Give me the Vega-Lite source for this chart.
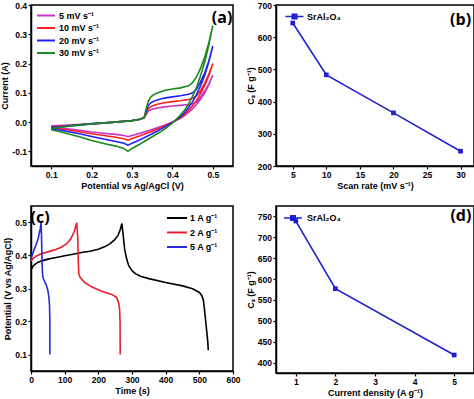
{
  "$schema": "https://vega.github.io/schema/vega-lite/v6.json",
  "padding": {"left": 0, "top": 0, "right": 0, "bottom": 0},
  "background": "white",
  "columns": 2,
  "spacing": {"row": 14, "column": 4},
  "resolve": {"scale": {"color": "independent", "x": "independent", "y": "independent"}, "legend": {"color": "independent"}},
  "config": {
    "view": {"stroke": "black", "strokeWidth": 1.5},
    "axis": {"grid": false, "domainColor": "black", "domainWidth": 1.5, "tickColor": "black", "tickWidth": 1.2, "tickSize": 3, "labelOverlap": false, "tickCount": 20,
      "labelFont": "Liberation Sans", "labelFontWeight": "bold", "labelFontSize": 8.5, "labelColor": "black", "labelPadding": 1.5, "labelFlush": false,
      "titleFont": "Liberation Sans", "titleFontWeight": "bold", "titleFontSize": 9, "titleColor": "black", "titlePadding": 2},
    "legend": {"labelFont": "Liberation Sans", "labelFontWeight": "bold", "labelFontSize": 9, "labelColor": "black", "padding": 0, "title": null}
  },
  "concat": [
    {
      "width": 202, "height": 161,
      "layer": [
        {
          "data": {"values": [
            {"s":"5 mV s⁻¹","i":0,"v":0.1,"c":-0.013},{"s":"5 mV s⁻¹","i":1,"v":0.15,"c":-0.01},{"s":"5 mV s⁻¹","i":2,"v":0.2,"c":-0.005},{"s":"5 mV s⁻¹","i":3,"v":0.25,"c":-0.001},{"s":"5 mV s⁻¹","i":4,"v":0.3,"c":0.005},{"s":"5 mV s⁻¹","i":5,"v":0.32,"c":0.01},{"s":"5 mV s⁻¹","i":6,"v":0.33,"c":0.014},{"s":"5 mV s⁻¹","i":7,"v":0.335,"c":0.026},{"s":"5 mV s⁻¹","i":8,"v":0.34,"c":0.037},{"s":"5 mV s⁻¹","i":9,"v":0.345,"c":0.041},{"s":"5 mV s⁻¹","i":10,"v":0.35,"c":0.044},{"s":"5 mV s⁻¹","i":11,"v":0.36,"c":0.047},{"s":"5 mV s⁻¹","i":12,"v":0.38,"c":0.052},{"s":"5 mV s⁻¹","i":13,"v":0.4,"c":0.055},{"s":"5 mV s⁻¹","i":14,"v":0.42,"c":0.057},{"s":"5 mV s⁻¹","i":15,"v":0.44,"c":0.06},{"s":"5 mV s⁻¹","i":16,"v":0.45,"c":0.063},{"s":"5 mV s⁻¹","i":17,"v":0.46,"c":0.07},{"s":"5 mV s⁻¹","i":18,"v":0.47,"c":0.086},{"s":"5 mV s⁻¹","i":19,"v":0.48,"c":0.106},{"s":"5 mV s⁻¹","i":20,"v":0.49,"c":0.13},{"s":"5 mV s⁻¹","i":21,"v":0.5,"c":0.16},
            {"s":"5 mV s⁻¹","i":22,"v":0.49,"c":0.127},{"s":"5 mV s⁻¹","i":23,"v":0.48,"c":0.1},{"s":"5 mV s⁻¹","i":24,"v":0.47,"c":0.079},{"s":"5 mV s⁻¹","i":25,"v":0.46,"c":0.061},{"s":"5 mV s⁻¹","i":26,"v":0.45,"c":0.046},{"s":"5 mV s⁻¹","i":27,"v":0.44,"c":0.033},{"s":"5 mV s⁻¹","i":28,"v":0.43,"c":0.022},{"s":"5 mV s⁻¹","i":29,"v":0.42,"c":0.013},{"s":"5 mV s⁻¹","i":30,"v":0.4,"c":0},{"s":"5 mV s⁻¹","i":31,"v":0.38,"c":-0.011},{"s":"5 mV s⁻¹","i":32,"v":0.35,"c":-0.025},{"s":"5 mV s⁻¹","i":33,"v":0.32,"c":-0.038},{"s":"5 mV s⁻¹","i":34,"v":0.3,"c":-0.046},{"s":"5 mV s⁻¹","i":35,"v":0.29,"c":-0.05},{"s":"5 mV s⁻¹","i":36,"v":0.28,"c":-0.046},{"s":"5 mV s⁻¹","i":37,"v":0.26,"c":-0.042},{"s":"5 mV s⁻¹","i":38,"v":0.23,"c":-0.038},{"s":"5 mV s⁻¹","i":39,"v":0.2,"c":-0.034},{"s":"5 mV s⁻¹","i":40,"v":0.17,"c":-0.028},{"s":"5 mV s⁻¹","i":41,"v":0.15,"c":-0.025},{"s":"5 mV s⁻¹","i":42,"v":0.12,"c":-0.02},{"s":"5 mV s⁻¹","i":43,"v":0.1,"c":-0.017},
            {"s":"10 mV s⁻¹","i":0,"v":0.1,"c":-0.016},{"s":"10 mV s⁻¹","i":1,"v":0.15,"c":-0.011},{"s":"10 mV s⁻¹","i":2,"v":0.2,"c":-0.006},{"s":"10 mV s⁻¹","i":3,"v":0.25,"c":-0.001},{"s":"10 mV s⁻¹","i":4,"v":0.3,"c":0.005},{"s":"10 mV s⁻¹","i":5,"v":0.32,"c":0.01},{"s":"10 mV s⁻¹","i":6,"v":0.33,"c":0.015},{"s":"10 mV s⁻¹","i":7,"v":0.335,"c":0.03},{"s":"10 mV s⁻¹","i":8,"v":0.34,"c":0.045},{"s":"10 mV s⁻¹","i":9,"v":0.345,"c":0.051},{"s":"10 mV s⁻¹","i":10,"v":0.35,"c":0.055},{"s":"10 mV s⁻¹","i":11,"v":0.36,"c":0.06},{"s":"10 mV s⁻¹","i":12,"v":0.38,"c":0.066},{"s":"10 mV s⁻¹","i":13,"v":0.4,"c":0.07},{"s":"10 mV s⁻¹","i":14,"v":0.42,"c":0.073},{"s":"10 mV s⁻¹","i":15,"v":0.44,"c":0.077},{"s":"10 mV s⁻¹","i":16,"v":0.45,"c":0.081},{"s":"10 mV s⁻¹","i":17,"v":0.46,"c":0.09},{"s":"10 mV s⁻¹","i":18,"v":0.47,"c":0.108},{"s":"10 mV s⁻¹","i":19,"v":0.48,"c":0.133},{"s":"10 mV s⁻¹","i":20,"v":0.49,"c":0.163},{"s":"10 mV s⁻¹","i":21,"v":0.5,"c":0.2},
            {"s":"10 mV s⁻¹","i":22,"v":0.49,"c":0.158},{"s":"10 mV s⁻¹","i":23,"v":0.48,"c":0.125},{"s":"10 mV s⁻¹","i":24,"v":0.47,"c":0.098},{"s":"10 mV s⁻¹","i":25,"v":0.46,"c":0.075},{"s":"10 mV s⁻¹","i":26,"v":0.45,"c":0.056},{"s":"10 mV s⁻¹","i":27,"v":0.44,"c":0.04},{"s":"10 mV s⁻¹","i":28,"v":0.43,"c":0.026},{"s":"10 mV s⁻¹","i":29,"v":0.42,"c":0.015},{"s":"10 mV s⁻¹","i":30,"v":0.4,"c":-0.001},{"s":"10 mV s⁻¹","i":31,"v":0.38,"c":-0.014},{"s":"10 mV s⁻¹","i":32,"v":0.35,"c":-0.031},{"s":"10 mV s⁻¹","i":33,"v":0.32,"c":-0.047},{"s":"10 mV s⁻¹","i":34,"v":0.3,"c":-0.056},{"s":"10 mV s⁻¹","i":35,"v":0.29,"c":-0.062},{"s":"10 mV s⁻¹","i":36,"v":0.28,"c":-0.057},{"s":"10 mV s⁻¹","i":37,"v":0.26,"c":-0.052},{"s":"10 mV s⁻¹","i":38,"v":0.23,"c":-0.046},{"s":"10 mV s⁻¹","i":39,"v":0.2,"c":-0.04},{"s":"10 mV s⁻¹","i":40,"v":0.17,"c":-0.033},{"s":"10 mV s⁻¹","i":41,"v":0.15,"c":-0.029},{"s":"10 mV s⁻¹","i":42,"v":0.12,"c":-0.023},{"s":"10 mV s⁻¹","i":43,"v":0.1,"c":-0.02},
            {"s":"20 mV s⁻¹","i":0,"v":0.1,"c":-0.019},{"s":"20 mV s⁻¹","i":1,"v":0.15,"c":-0.012},{"s":"20 mV s⁻¹","i":2,"v":0.2,"c":-0.006},{"s":"20 mV s⁻¹","i":3,"v":0.25,"c":-0.001},{"s":"20 mV s⁻¹","i":4,"v":0.3,"c":0.005},{"s":"20 mV s⁻¹","i":5,"v":0.32,"c":0.01},{"s":"20 mV s⁻¹","i":6,"v":0.33,"c":0.015},{"s":"20 mV s⁻¹","i":7,"v":0.335,"c":0.035},{"s":"20 mV s⁻¹","i":8,"v":0.34,"c":0.055},{"s":"20 mV s⁻¹","i":9,"v":0.345,"c":0.064},{"s":"20 mV s⁻¹","i":10,"v":0.35,"c":0.069},{"s":"20 mV s⁻¹","i":11,"v":0.36,"c":0.075},{"s":"20 mV s⁻¹","i":12,"v":0.38,"c":0.082},{"s":"20 mV s⁻¹","i":13,"v":0.4,"c":0.086},{"s":"20 mV s⁻¹","i":14,"v":0.42,"c":0.09},{"s":"20 mV s⁻¹","i":15,"v":0.44,"c":0.095},{"s":"20 mV s⁻¹","i":16,"v":0.45,"c":0.1},{"s":"20 mV s⁻¹","i":17,"v":0.46,"c":0.113},{"s":"20 mV s⁻¹","i":18,"v":0.47,"c":0.138},{"s":"20 mV s⁻¹","i":19,"v":0.48,"c":0.168},{"s":"20 mV s⁻¹","i":20,"v":0.49,"c":0.208},{"s":"20 mV s⁻¹","i":21,"v":0.5,"c":0.26},
            {"s":"20 mV s⁻¹","i":22,"v":0.49,"c":0.205},{"s":"20 mV s⁻¹","i":23,"v":0.48,"c":0.16},{"s":"20 mV s⁻¹","i":24,"v":0.47,"c":0.125},{"s":"20 mV s⁻¹","i":25,"v":0.46,"c":0.095},{"s":"20 mV s⁻¹","i":26,"v":0.45,"c":0.07},{"s":"20 mV s⁻¹","i":27,"v":0.44,"c":0.05},{"s":"20 mV s⁻¹","i":28,"v":0.43,"c":0.032},{"s":"20 mV s⁻¹","i":29,"v":0.42,"c":0.019},{"s":"20 mV s⁻¹","i":30,"v":0.4,"c":-0.002},{"s":"20 mV s⁻¹","i":31,"v":0.38,"c":-0.018},{"s":"20 mV s⁻¹","i":32,"v":0.35,"c":-0.04},{"s":"20 mV s⁻¹","i":33,"v":0.32,"c":-0.06},{"s":"20 mV s⁻¹","i":34,"v":0.3,"c":-0.072},{"s":"20 mV s⁻¹","i":35,"v":0.29,"c":-0.079},{"s":"20 mV s⁻¹","i":36,"v":0.28,"c":-0.072},{"s":"20 mV s⁻¹","i":37,"v":0.26,"c":-0.066},{"s":"20 mV s⁻¹","i":38,"v":0.23,"c":-0.058},{"s":"20 mV s⁻¹","i":39,"v":0.2,"c":-0.049},{"s":"20 mV s⁻¹","i":40,"v":0.17,"c":-0.04},{"s":"20 mV s⁻¹","i":41,"v":0.15,"c":-0.035},{"s":"20 mV s⁻¹","i":42,"v":0.12,"c":-0.027},{"s":"20 mV s⁻¹","i":43,"v":0.1,"c":-0.023},
            {"s":"30 mV s⁻¹","i":0,"v":0.1,"c":-0.022},{"s":"30 mV s⁻¹","i":1,"v":0.15,"c":-0.013},{"s":"30 mV s⁻¹","i":2,"v":0.2,"c":-0.006},{"s":"30 mV s⁻¹","i":3,"v":0.25,"c":-0.001},{"s":"30 mV s⁻¹","i":4,"v":0.3,"c":0.005},{"s":"30 mV s⁻¹","i":5,"v":0.32,"c":0.01},{"s":"30 mV s⁻¹","i":6,"v":0.33,"c":0.016},{"s":"30 mV s⁻¹","i":7,"v":0.335,"c":0.045},{"s":"30 mV s⁻¹","i":8,"v":0.34,"c":0.07},{"s":"30 mV s⁻¹","i":9,"v":0.345,"c":0.082},{"s":"30 mV s⁻¹","i":10,"v":0.35,"c":0.09},{"s":"30 mV s⁻¹","i":11,"v":0.36,"c":0.098},{"s":"30 mV s⁻¹","i":12,"v":0.38,"c":0.108},{"s":"30 mV s⁻¹","i":13,"v":0.4,"c":0.113},{"s":"30 mV s⁻¹","i":14,"v":0.42,"c":0.117},{"s":"30 mV s⁻¹","i":15,"v":0.44,"c":0.124},{"s":"30 mV s⁻¹","i":16,"v":0.45,"c":0.135},{"s":"30 mV s⁻¹","i":17,"v":0.46,"c":0.155},{"s":"30 mV s⁻¹","i":18,"v":0.47,"c":0.185},{"s":"30 mV s⁻¹","i":19,"v":0.48,"c":0.222},{"s":"30 mV s⁻¹","i":20,"v":0.49,"c":0.27},{"s":"30 mV s⁻¹","i":21,"v":0.5,"c":0.33},
            {"s":"30 mV s⁻¹","i":22,"v":0.49,"c":0.262},{"s":"30 mV s⁻¹","i":23,"v":0.48,"c":0.205},{"s":"30 mV s⁻¹","i":24,"v":0.47,"c":0.16},{"s":"30 mV s⁻¹","i":25,"v":0.46,"c":0.12},{"s":"30 mV s⁻¹","i":26,"v":0.45,"c":0.088},{"s":"30 mV s⁻¹","i":27,"v":0.44,"c":0.062},{"s":"30 mV s⁻¹","i":28,"v":0.43,"c":0.04},{"s":"30 mV s⁻¹","i":29,"v":0.42,"c":0.024},{"s":"30 mV s⁻¹","i":30,"v":0.4,"c":-0.004},{"s":"30 mV s⁻¹","i":31,"v":0.38,"c":-0.025},{"s":"30 mV s⁻¹","i":32,"v":0.35,"c":-0.05},{"s":"30 mV s⁻¹","i":33,"v":0.32,"c":-0.075},{"s":"30 mV s⁻¹","i":34,"v":0.3,"c":-0.09},{"s":"30 mV s⁻¹","i":35,"v":0.29,"c":-0.1},{"s":"30 mV s⁻¹","i":36,"v":0.28,"c":-0.09},{"s":"30 mV s⁻¹","i":37,"v":0.26,"c":-0.082},{"s":"30 mV s⁻¹","i":38,"v":0.23,"c":-0.073},{"s":"30 mV s⁻¹","i":39,"v":0.2,"c":-0.063},{"s":"30 mV s⁻¹","i":40,"v":0.17,"c":-0.05},{"s":"30 mV s⁻¹","i":41,"v":0.15,"c":-0.043},{"s":"30 mV s⁻¹","i":42,"v":0.12,"c":-0.032},{"s":"30 mV s⁻¹","i":43,"v":0.1,"c":-0.026}
          ]},
          "mark": {"type": "line", "strokeWidth": 1.6},
          "encoding": {
            "x": {"field": "v", "type": "quantitative", "scale": {"domain": [0.05, 0.55], "nice": false, "zero": false}, "axis": {"values": [0.1, 0.2, 0.3, 0.4, 0.5], "tickCount": 20, "format": ".1f", "labelOverlap": false, "title": "Potential vs Ag/AgCl (V)"}},
            "y": {"field": "c", "type": "quantitative", "scale": {"domain": [-0.15, 0.4], "nice": false, "zero": false}, "axis": {"values": [-0.1, 0, 0.1, 0.2, 0.3, 0.4], "tickCount": 20, "format": ".1f", "labelExpr": "replace(datum.label, '−', '-')", "labelOverlap": false, "title": "Current (A)"}},
            "color": {"field": "s", "type": "nominal", "scale": {"domain": ["5 mV s⁻¹", "10 mV s⁻¹", "20 mV s⁻¹", "30 mV s⁻¹"], "range": ["#c832c8", "#ff1f1f", "#1f1fff", "#1a8a1a"]},
              "legend": {"orient": "none", "legendX": 9.5, "legendY": 5, "symbolType": "M-2,0H2", "symbolSize": 81, "symbolStrokeWidth": 2, "rowPadding": 1.5, "labelOffset": 7.5}},
            "order": {"field": "i", "type": "quantitative"}
          }
        },
        {
          "data": {"values": [{"x": 0.523, "y": 0.354, "t": "(a)"}]},
          "mark": {"type": "text", "font": "Open Sans", "fontWeight": "bold", "fontSize": 16, "color": "black"},
          "encoding": {"x": {"field": "x", "type": "quantitative"}, "y": {"field": "y", "type": "quantitative"}, "text": {"field": "t"}}
        }
      ]
    },
    {
      "width": 198, "height": 161,
      "layer": [
        {
          "data": {"values": [{"r": 5, "cs": 644, "n": "SrAl₂O₄"}, {"r": 10, "cs": 483, "n": "SrAl₂O₄"}, {"r": 20, "cs": 365, "n": "SrAl₂O₄"}, {"r": 30, "cs": 246, "n": "SrAl₂O₄"}]},
          "mark": {"type": "line", "strokeWidth": 1.6, "point": {"shape": "square", "size": 22, "filled": true}},
          "encoding": {
            "x": {"field": "r", "type": "quantitative", "scale": {"domain": [2.5, 32], "nice": false, "zero": false}, "axis": {"values": [5, 10, 15, 20, 25, 30], "tickCount": 20, "format": "d", "labelOverlap": false, "title": "Scan rate (mV s⁻¹)"}},
            "y": {"field": "cs", "type": "quantitative", "scale": {"domain": [200, 700], "nice": false, "zero": false}, "axis": {"values": [200, 300, 400, 500, 600, 700], "tickCount": 20, "format": "d", "labelOverlap": false, "title": "Cₛ (F g⁻¹)"}},
            "color": {"field": "n", "type": "nominal", "scale": {"domain": ["SrAl₂O₄"], "range": ["#2020d0"]},
              "legend": {"orient": "none", "legendX": 13, "legendY": 6, "symbolType": "M-2,0H2M-0.5,-0.5H0.5V0.5H-0.5Z", "symbolSize": 81, "symbolStrokeWidth": 1.6, "symbolFillColor": "#2020d0", "labelOffset": 7}}
          }
        },
        {
          "data": {"values": [{"x": 30, "y": 652, "t": "(b)"}]},
          "mark": {"type": "text", "font": "Open Sans", "fontWeight": "bold", "fontSize": 16, "color": "black"},
          "encoding": {"x": {"field": "x", "type": "quantitative"}, "y": {"field": "y", "type": "quantitative"}, "text": {"field": "t"}}
        }
      ]
    },
    {
      "width": 202, "height": 165,
      "layer": [
        {
          "data": {"values": [
            {"s":"1 A g⁻¹","i":0,"t":0,"p":0.356},{"s":"1 A g⁻¹","i":1,"t":5,"p":0.366},{"s":"1 A g⁻¹","i":2,"t":10,"p":0.372},{"s":"1 A g⁻¹","i":3,"t":20,"p":0.379},{"s":"1 A g⁻¹","i":4,"t":30,"p":0.383},{"s":"1 A g⁻¹","i":5,"t":50,"p":0.389},{"s":"1 A g⁻¹","i":6,"t":75,"p":0.394},{"s":"1 A g⁻¹","i":7,"t":100,"p":0.399},{"s":"1 A g⁻¹","i":8,"t":125,"p":0.404},{"s":"1 A g⁻¹","i":9,"t":150,"p":0.409},{"s":"1 A g⁻¹","i":10,"t":175,"p":0.413},{"s":"1 A g⁻¹","i":11,"t":200,"p":0.419},{"s":"1 A g⁻¹","i":12,"t":220,"p":0.427},{"s":"1 A g⁻¹","i":13,"t":235,"p":0.436},{"s":"1 A g⁻¹","i":14,"t":248,"p":0.447},{"s":"1 A g⁻¹","i":15,"t":258,"p":0.46},{"s":"1 A g⁻¹","i":16,"t":265,"p":0.478},{"s":"1 A g⁻¹","i":17,"t":270,"p":0.497},{"s":"1 A g⁻¹","i":18,"t":274,"p":0.46},{"s":"1 A g⁻¹","i":19,"t":278,"p":0.42},{"s":"1 A g⁻¹","i":20,"t":284,"p":0.39},{"s":"1 A g⁻¹","i":21,"t":290,"p":0.37},{"s":"1 A g⁻¹","i":22,"t":300,"p":0.354},{"s":"1 A g⁻¹","i":23,"t":310,"p":0.345},{"s":"1 A g⁻¹","i":24,"t":325,"p":0.337},{"s":"1 A g⁻¹","i":25,"t":350,"p":0.33},{"s":"1 A g⁻¹","i":26,"t":400,"p":0.318},{"s":"1 A g⁻¹","i":27,"t":450,"p":0.308},{"s":"1 A g⁻¹","i":28,"t":480,"p":0.299},{"s":"1 A g⁻¹","i":29,"t":500,"p":0.288},{"s":"1 A g⁻¹","i":30,"t":507,"p":0.279},{"s":"1 A g⁻¹","i":31,"t":512,"p":0.265},{"s":"1 A g⁻¹","i":32,"t":515,"p":0.24},{"s":"1 A g⁻¹","i":33,"t":519,"p":0.2},{"s":"1 A g⁻¹","i":34,"t":522,"p":0.17},{"s":"1 A g⁻¹","i":35,"t":525,"p":0.14},{"s":"1 A g⁻¹","i":36,"t":526.5,"p":0.113},
            {"s":"2 A g⁻¹","i":0,"t":0,"p":0.383},{"s":"2 A g⁻¹","i":1,"t":5,"p":0.39},{"s":"2 A g⁻¹","i":2,"t":15,"p":0.398},{"s":"2 A g⁻¹","i":3,"t":30,"p":0.405},{"s":"2 A g⁻¹","i":4,"t":50,"p":0.411},{"s":"2 A g⁻¹","i":5,"t":70,"p":0.417},{"s":"2 A g⁻¹","i":6,"t":90,"p":0.425},{"s":"2 A g⁻¹","i":7,"t":105,"p":0.435},{"s":"2 A g⁻¹","i":8,"t":118,"p":0.45},{"s":"2 A g⁻¹","i":9,"t":128,"p":0.472},{"s":"2 A g⁻¹","i":10,"t":136,"p":0.499},{"s":"2 A g⁻¹","i":11,"t":139,"p":0.45},{"s":"2 A g⁻¹","i":12,"t":140.5,"p":0.38},{"s":"2 A g⁻¹","i":13,"t":142,"p":0.345},{"s":"2 A g⁻¹","i":14,"t":146,"p":0.333},{"s":"2 A g⁻¹","i":15,"t":160,"p":0.318},{"s":"2 A g⁻¹","i":16,"t":180,"p":0.305},{"s":"2 A g⁻¹","i":17,"t":210,"p":0.292},{"s":"2 A g⁻¹","i":18,"t":240,"p":0.282},{"s":"2 A g⁻¹","i":19,"t":254,"p":0.273},{"s":"2 A g⁻¹","i":20,"t":260,"p":0.258},{"s":"2 A g⁻¹","i":21,"t":263,"p":0.24},{"s":"2 A g⁻¹","i":22,"t":264.5,"p":0.2},{"s":"2 A g⁻¹","i":23,"t":265,"p":0.1},
            {"s":"5 A g⁻¹","i":0,"t":0,"p":0.39},{"s":"5 A g⁻¹","i":1,"t":5,"p":0.405},{"s":"5 A g⁻¹","i":2,"t":10,"p":0.42},{"s":"5 A g⁻¹","i":3,"t":15,"p":0.433},{"s":"5 A g⁻¹","i":4,"t":20,"p":0.447},{"s":"5 A g⁻¹","i":5,"t":25,"p":0.468},{"s":"5 A g⁻¹","i":6,"t":28,"p":0.485},{"s":"5 A g⁻¹","i":7,"t":30,"p":0.5},{"s":"5 A g⁻¹","i":8,"t":31,"p":0.47},{"s":"5 A g⁻¹","i":9,"t":32,"p":0.42},{"s":"5 A g⁻¹","i":10,"t":33,"p":0.37},{"s":"5 A g⁻¹","i":11,"t":35,"p":0.335},{"s":"5 A g⁻¹","i":12,"t":40,"p":0.322},{"s":"5 A g⁻¹","i":13,"t":45,"p":0.312},{"s":"5 A g⁻¹","i":14,"t":50,"p":0.295},{"s":"5 A g⁻¹","i":15,"t":53,"p":0.275},{"s":"5 A g⁻¹","i":16,"t":55,"p":0.25},{"s":"5 A g⁻¹","i":17,"t":56,"p":0.2},{"s":"5 A g⁻¹","i":18,"t":56,"p":0.1}
          ]},
          "mark": {"type": "line", "strokeWidth": 1.6},
          "encoding": {
            "x": {"field": "t", "type": "quantitative", "scale": {"domain": [0, 600], "nice": false, "zero": false}, "axis": {"values": [0, 100, 200, 300, 400, 500, 600], "tickCount": 20, "format": "d", "labelOverlap": false, "title": "Time (s)"}},
            "y": {"field": "p", "type": "quantitative", "scale": {"domain": [0.05, 0.55], "nice": false, "zero": false}, "axis": {"values": [0.1, 0.2, 0.3, 0.4, 0.5], "tickCount": 20, "format": ".1f", "labelOverlap": false, "title": "Potential (V vs Ag/AgCl)"}},
            "color": {"field": "s", "type": "nominal", "scale": {"domain": ["1 A g⁻¹", "2 A g⁻¹", "5 A g⁻¹"], "range": ["#000000", "#e8202a", "#2a2ae0"]},
              "legend": {"orient": "none", "legendX": 140, "legendY": 6, "symbolType": "M-2,0H2", "symbolSize": 100, "symbolStrokeWidth": 2, "rowPadding": 3.5, "labelOffset": 7}},
            "order": {"field": "i", "type": "quantitative"}
          }
        },
        {
          "data": {"values": [{"x": 27, "y": 0.513, "t": "(c)"}]},
          "mark": {"type": "text", "font": "Open Sans", "fontWeight": "bold", "fontSize": 16, "color": "black"},
          "encoding": {"x": {"field": "x", "type": "quantitative"}, "y": {"field": "y", "type": "quantitative"}, "text": {"field": "t"}}
        }
      ]
    },
    {
      "width": 198, "height": 167,
      "layer": [
        {
          "data": {"values": [{"d": 1, "cs": 739, "n": "SrAl₂O₄"}, {"d": 2, "cs": 577, "n": "SrAl₂O₄"}, {"d": 5, "cs": 418, "n": "SrAl₂O₄"}]},
          "mark": {"type": "line", "strokeWidth": 1.6, "point": {"shape": "square", "size": 22, "filled": true}},
          "encoding": {
            "x": {"field": "d", "type": "quantitative", "scale": {"domain": [0.5, 5.5], "nice": false, "zero": false}, "axis": {"values": [1, 2, 3, 4, 5], "tickCount": 20, "format": "d", "labelOverlap": false, "title": "Current density (A g⁻¹)"}},
            "y": {"field": "cs", "type": "quantitative", "scale": {"domain": [375, 775], "nice": false, "zero": false}, "axis": {"values": [400, 450, 500, 550, 600, 650, 700, 750], "tickCount": 20, "format": "d", "labelOverlap": false, "title": "Cₛ (F g⁻¹)"}},
            "color": {"field": "n", "type": "nominal", "scale": {"domain": ["SrAl₂O₄"], "range": ["#2020d0"]},
              "legend": {"orient": "none", "legendX": 11.5, "legendY": 6.5, "symbolType": "M-2,0H2M-0.5,-0.5H0.5V0.5H-0.5Z", "symbolSize": 81, "symbolStrokeWidth": 1.6, "symbolFillColor": "#2020d0", "labelOffset": 8.5}}
          }
        },
        {
          "data": {"values": [{"x": 5.17, "y": 750, "t": "(d)"}]},
          "mark": {"type": "text", "font": "Open Sans", "fontWeight": "bold", "fontSize": 16, "color": "black"},
          "encoding": {"x": {"field": "x", "type": "quantitative"}, "y": {"field": "y", "type": "quantitative"}, "text": {"field": "t"}}
        }
      ]
    }
  ]
}
